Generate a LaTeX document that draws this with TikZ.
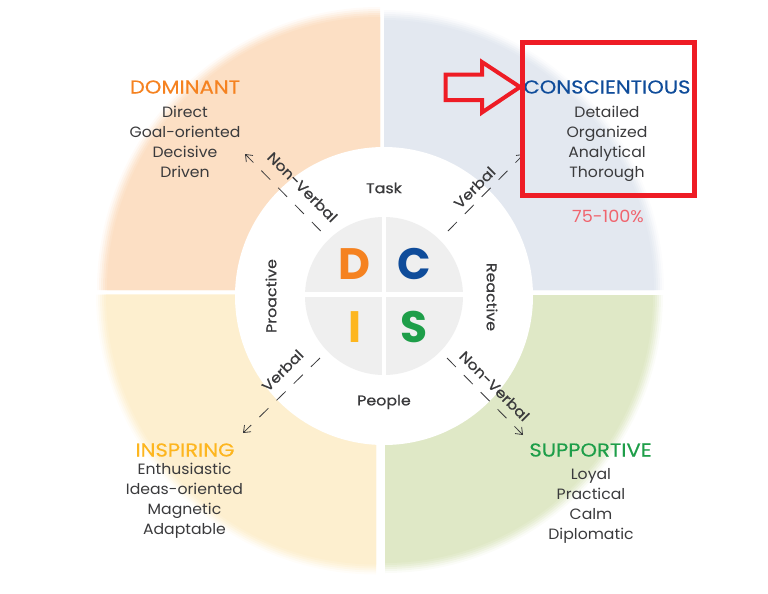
\documentclass[tikz,border=0pt]{standalone}
\usepackage{fontspec}
\setmainfont{Poppins}
\newfontfamily\headf{Poppins}[FakeBold=0.35,FakeStretch=1.13]
\newfontfamily\axisf{Poppins}[FakeBold=0.6,FakeStretch=1.12]
\newfontfamily\bodyf{Poppins}[FakeStretch=1.05]
\usetikzlibrary{arrows.meta,calc}
\definecolor{wD}{HTML}{FCDFC4}
\definecolor{wC}{HTML}{E3E8F0}
\definecolor{wI}{HTML}{FDEFCF}
\definecolor{wS}{HTML}{DFE8C6}
\definecolor{cD}{HTML}{F58220}
\definecolor{cC}{HTML}{0F4C9A}
\definecolor{cI}{HTML}{FDB61F}
\definecolor{cS}{HTML}{1E9E49}
\definecolor{hub}{HTML}{EFEFEF}
\definecolor{ink}{HTML}{3A3A3C}
\definecolor{redbox}{HTML}{EE1C25}
\definecolor{pctc}{HTML}{F0646E}
\tikzset{
  x=0.75pt,y=-0.75pt,
  head/.style={font=\headf\fontsize{14pt}{16pt}\selectfont,inner sep=0pt},
  body/.style={font=\bodyf\fontsize{11.2pt}{15pt}\selectfont,text=ink,align=center,inner sep=0pt},
  axis/.style={font=\axisf\fontsize{10.6pt}{12pt}\selectfont,text=ink,inner sep=0pt},
  letter/.style={font=\fontsize{33pt}{36pt}\selectfont\bfseries,inner sep=0pt},
  dashline/.style={draw=ink,line width=0.6pt,dash pattern=on 9.5pt off 8.5pt,-{Straight Barb[length=4.5pt,width=7pt]}},
}
\begin{document}
\begin{tikzpicture}
\useasboundingbox (0,0) rectangle (768,593);
% quadrants with soft rim
\foreach \c/\ox/\oy/\sx/\sa/\ea/\base in {wD/380/290/-1/180/90/273, wC/384/290/1/0/90/270, wI/376/294.5/-1/180/270/270, wS/385/295/1/0/-90/268}{
  \foreach \d/\o in {10/0.12,8/0.2,6/0.3,4/0.4,2/0.6,0/1}{
    \pgfmathsetmacro{\r}{\base+\d}
    \fill[\c,opacity=\o] (\ox,\oy) -- ++(\sx*\r,0) arc[start angle=\sa,end angle=\ea,radius=\r*0.75pt] -- cycle;
  }
}
\node[circle,fill=white,minimum size=223.5pt,inner sep=0pt] (ring) at (384,296) {};
\node[circle,fill=hub,minimum size=118.5pt,inner sep=0pt] (hubc) at (384,296) {};
\fill[white] (381.7,214) rectangle (385.7,378);
\fill[white] (303,292) rectangle (465,296.7);
% letters
\node[letter,text=cD] (ld) at (354,264) {D};
\node[letter,text=cC] (lc) at (414,264) {C};
\node[letter,text=cI] (li) at (355,327) {I};
\node[letter,text=cS] (ls) at (414,327) {S};
% axis labels
\node[axis] (task) at (384,188) {Task};
\node[axis] (people) at (384,402) {People};
\node[axis,rotate=90] (pro) at (271,296) {Proactive};
\node[axis,rotate=-90] (rea) at (492,297) {Reactive};
\node[axis,rotate=-45] (nv1) at (302.5,187) {Non-Verbal};
\node[axis,rotate=45] (v1) at (474.5,187.5) {Verbal};
\node[axis,rotate=45] (v2) at (282.5,370.5) {Verbal};
\node[axis,rotate=-45] (nv2) at (494.5,386) {Non-Verbal};
% diagonals
\coordinate (a1) at (320.7,231); \coordinate (b1) at (245,154);
\coordinate (a2) at (448,231); \coordinate (b2) at (524,154);
\coordinate (a3) at (320,358); \coordinate (b3) at (243,433);
\coordinate (a4) at (447,358); \coordinate (b4) at (523,435);
\foreach \n in {1,2,3,4}{
  \draw[dashline] (a\n) -- (b\n);
}
% quadrant text
\node[head,text=cD] (hd) at (185,87) {DOMINANT};
\node[body] (td) at (185,142) {Direct\\Goal-oriented\\Decisive\\Driven};
\node[head,text=cC] (hc) at (607,87) {CONSCIENTIOUS};
\node[body] (tc) at (607,143.5) {Detailed\\Organized\\Analytical\\Thorough};
\node[font=\bodyf\fontsize{12.6pt}{14pt}\selectfont,text=pctc,inner sep=0pt] (pct) at (608,216) {75-100\%};
\node[head,text=cI] (hi) at (185,450) {INSPIRING};
\node[body] (ti) at (184.5,500.5) {Enthusiastic\\Ideas-oriented\\Magnetic\\Adaptable};
\node[head,text=cS] (hs) at (590.5,450) {SUPPORTIVE};
\node[body] (ts) at (591,505.5) {Loyal\\Practical\\Calm\\Diplomatic};
% annotation
\draw[redbox,line width=3.6pt] (522.5,42.5) rectangle (694.5,195.5);
\draw[redbox,line width=3pt,line join=miter] (445.5,74.5) -- (482,74.5) -- (482,62) -- (520,87) -- (482,112.5) -- (482,100) -- (445.5,100) -- cycle;
\end{tikzpicture}
\end{document}
